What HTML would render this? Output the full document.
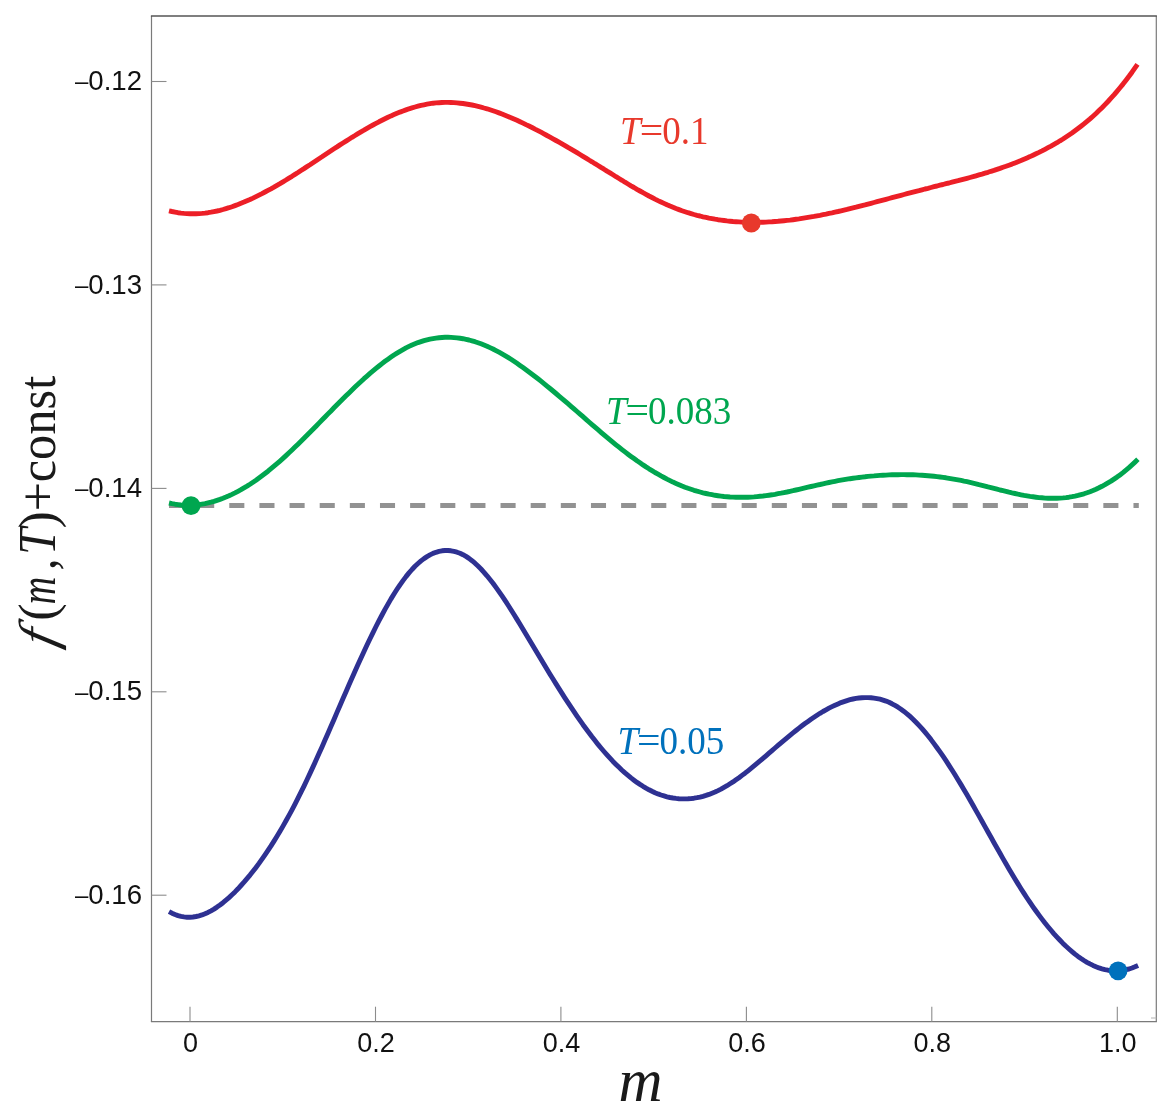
<!DOCTYPE html>
<html lang="en">
<head>
<meta charset="utf-8">
<title>f(m,T)+const</title>
<style>
html,body{margin:0;padding:0;background:#fff;}
body{width:1171px;height:1117px;overflow:hidden;}
svg{display:block;}
.sans{font-family:"Liberation Sans",Arial,Helvetica,sans-serif;font-size:27px;fill:#111;}
.serif{font-family:"Liberation Serif","Times New Roman",Times,serif;}
.it{font-style:italic;}
.crv{fill:none;stroke-width:4.9;stroke-linejoin:round;stroke-linecap:butt;}
</style>
</head>
<body>
<svg width="1171" height="1117" viewBox="0 0 1171 1117">
<rect x="0" y="0" width="1171" height="1117" fill="#ffffff"/>

<!-- frame -->
<g fill="none" stroke="#7a7a7a" stroke-width="1.2">
<line x1="151.5" y1="16.0" x2="151.5" y2="1021.7"/>
<line x1="1156.3" y1="16.0" x2="1156.3" y2="1021.7"/>
<line x1="150.9" y1="1021.7" x2="1156.8999999999999" y2="1021.7"/>
</g>
<line x1="150.9" y1="16.0" x2="1156.8999999999999" y2="16.0" stroke="#555" stroke-width="1.6"/>
<g stroke="#8c8c8c" stroke-width="1.1">
<line x1="190.0" y1="1006.7" x2="190.0" y2="1021.7"/>
<line x1="375.5" y1="1006.7" x2="375.5" y2="1021.7"/>
<line x1="560.9" y1="1006.7" x2="560.9" y2="1021.7"/>
<line x1="746.4" y1="1006.7" x2="746.4" y2="1021.7"/>
<line x1="931.8" y1="1006.7" x2="931.8" y2="1021.7"/>
<line x1="1117.3" y1="1006.7" x2="1117.3" y2="1021.7"/>
<line x1="151.5" y1="81.5" x2="166.5" y2="81.5"/>
<line x1="151.5" y1="284.9" x2="166.5" y2="284.9"/>
<line x1="151.5" y1="488.4" x2="166.5" y2="488.4"/>
<line x1="151.5" y1="691.8" x2="166.5" y2="691.8"/>
<line x1="151.5" y1="895.2" x2="166.5" y2="895.2"/>
<line x1="1151" y1="1018" x2="1156.3" y2="1018" stroke="#bbb"/>
</g>

<!-- dashed reference line -->
<line x1="169" y1="505.5" x2="1138.8" y2="505.5" stroke="#929292" stroke-width="5" stroke-dasharray="15.07 15.07"/>

<!-- curves -->
<path class="crv" stroke="#ec1f27" d="M169.0 210.8 L172.0 211.5 L175.0 212.1 L178.0 212.7 L181.0 213.1 L184.0 213.4 L187.0 213.6 L190.0 213.8 L193.0 213.8 L196.0 213.8 L199.0 213.6 L202.0 213.4 L205.0 213.1 L208.0 212.7 L211.0 212.2 L214.0 211.6 L217.0 211.0 L220.0 210.3 L223.0 209.5 L226.0 208.6 L229.0 207.7 L232.0 206.7 L235.0 205.6 L238.0 204.5 L241.0 203.3 L244.0 202.1 L247.0 200.8 L250.0 199.5 L253.0 198.1 L256.0 196.6 L259.0 195.1 L262.0 193.6 L265.0 192.0 L268.0 190.4 L271.0 188.8 L274.0 187.1 L277.0 185.3 L280.0 183.6 L283.0 181.8 L286.0 180.0 L289.0 178.1 L292.0 176.3 L295.0 174.4 L298.0 172.5 L301.0 170.5 L304.0 168.6 L307.0 166.6 L310.0 164.7 L313.0 162.7 L316.0 160.7 L319.0 158.7 L322.0 156.8 L325.0 154.8 L328.0 152.8 L331.0 150.8 L334.0 148.8 L337.0 146.9 L340.0 144.9 L343.0 143.0 L346.0 141.1 L349.0 139.2 L352.0 137.3 L355.0 135.5 L358.0 133.6 L361.0 131.8 L364.0 130.1 L367.0 128.3 L370.0 126.6 L373.0 125.0 L376.0 123.4 L379.0 121.8 L382.0 120.3 L385.0 118.8 L388.0 117.3 L391.0 115.9 L394.0 114.6 L397.0 113.3 L400.0 112.1 L403.0 111.0 L406.0 109.9 L409.0 108.8 L412.0 107.9 L415.0 107.0 L418.0 106.2 L421.0 105.4 L424.0 104.8 L427.0 104.2 L430.0 103.7 L433.0 103.2 L436.0 102.9 L439.0 102.7 L442.0 102.5 L445.0 102.4 L448.0 102.4 L451.0 102.5 L454.0 102.6 L457.0 102.9 L460.0 103.2 L463.0 103.5 L466.0 104.0 L469.0 104.5 L472.0 105.0 L475.0 105.7 L478.0 106.4 L481.0 107.1 L484.0 108.0 L487.0 108.8 L490.0 109.8 L493.0 110.8 L496.0 111.8 L499.0 112.9 L502.0 114.0 L505.0 115.2 L508.0 116.4 L511.0 117.7 L514.0 119.0 L517.0 120.3 L520.0 121.7 L523.0 123.1 L526.0 124.6 L529.0 126.0 L532.0 127.5 L535.0 129.1 L538.0 130.6 L541.0 132.2 L544.0 133.8 L547.0 135.5 L550.0 137.1 L553.0 138.8 L556.0 140.5 L559.0 142.2 L562.0 143.9 L565.0 145.6 L568.0 147.4 L571.0 149.1 L574.0 150.9 L577.0 152.7 L580.0 154.5 L583.0 156.3 L586.0 158.1 L589.0 160.0 L592.0 161.8 L595.0 163.7 L598.0 165.5 L601.0 167.4 L604.0 169.2 L607.0 171.1 L610.0 172.9 L613.0 174.8 L616.0 176.7 L619.0 178.5 L622.0 180.3 L625.0 182.2 L628.0 184.0 L631.0 185.8 L634.0 187.5 L637.0 189.3 L640.0 191.0 L643.0 192.7 L646.0 194.3 L649.0 196.0 L652.0 197.5 L655.0 199.1 L658.0 200.6 L661.0 202.0 L664.0 203.4 L667.0 204.8 L670.0 206.1 L673.0 207.3 L676.0 208.5 L679.0 209.6 L682.0 210.7 L685.0 211.7 L688.0 212.7 L691.0 213.6 L694.0 214.5 L697.0 215.3 L700.0 216.0 L703.0 216.8 L706.0 217.4 L709.0 218.1 L712.0 218.6 L715.0 219.2 L718.0 219.7 L721.0 220.1 L724.0 220.5 L727.0 220.9 L730.0 221.2 L733.0 221.5 L736.0 221.7 L739.0 221.9 L742.0 222.1 L745.0 222.2 L748.0 222.3 L751.0 222.3 L754.0 222.4 L757.0 222.3 L760.0 222.3 L763.0 222.2 L766.0 222.1 L769.0 221.9 L772.0 221.8 L775.0 221.5 L778.0 221.3 L781.0 221.0 L784.0 220.7 L787.0 220.4 L790.0 220.1 L793.0 219.7 L796.0 219.3 L799.0 218.9 L802.0 218.4 L805.0 217.9 L808.0 217.4 L811.0 216.9 L814.0 216.4 L817.0 215.8 L820.0 215.3 L823.0 214.7 L826.0 214.1 L829.0 213.4 L832.0 212.8 L835.0 212.1 L838.0 211.5 L841.0 210.8 L844.0 210.1 L847.0 209.4 L850.0 208.6 L853.0 207.9 L856.0 207.2 L859.0 206.4 L862.0 205.6 L865.0 204.9 L868.0 204.1 L871.0 203.3 L874.0 202.5 L877.0 201.7 L880.0 200.9 L883.0 200.1 L886.0 199.3 L889.0 198.5 L892.0 197.7 L895.0 196.9 L898.0 196.1 L901.0 195.3 L904.0 194.5 L907.0 193.7 L910.0 192.9 L913.0 192.1 L916.0 191.3 L919.0 190.6 L922.0 189.8 L925.0 189.0 L928.0 188.3 L931.0 187.5 L934.0 186.7 L937.0 186.0 L940.0 185.2 L943.0 184.5 L946.0 183.7 L949.0 183.0 L952.0 182.2 L955.0 181.4 L958.0 180.7 L961.0 179.9 L964.0 179.1 L967.0 178.3 L970.0 177.5 L973.0 176.7 L976.0 175.8 L979.0 174.9 L982.0 174.1 L985.0 173.2 L988.0 172.3 L991.0 171.3 L994.0 170.4 L997.0 169.4 L1000.0 168.4 L1003.0 167.3 L1006.0 166.3 L1009.0 165.2 L1012.0 164.1 L1015.0 162.9 L1018.0 161.7 L1021.0 160.5 L1024.0 159.2 L1027.0 157.9 L1030.0 156.6 L1033.0 155.2 L1036.0 153.8 L1039.0 152.4 L1042.0 150.9 L1045.0 149.3 L1048.0 147.7 L1051.0 146.1 L1054.0 144.4 L1057.0 142.7 L1060.0 140.8 L1063.0 139.0 L1066.0 137.0 L1069.0 135.0 L1072.0 133.0 L1075.0 130.8 L1078.0 128.6 L1081.0 126.3 L1084.0 123.9 L1087.0 121.4 L1090.0 118.9 L1093.0 116.2 L1096.0 113.5 L1099.0 110.6 L1102.0 107.7 L1105.0 104.6 L1108.0 101.5 L1111.0 98.2 L1114.0 94.9 L1117.0 91.4 L1120.0 87.8 L1123.0 84.1 L1126.0 80.2 L1129.0 76.3 L1132.0 72.2 L1135.0 67.9 L1137.5 64.3"/>
<path class="crv" stroke="#00a64f" d="M169.0 503.0 L172.0 503.7 L175.0 504.2 L178.0 504.6 L181.0 505.0 L184.0 505.2 L187.0 505.3 L190.0 505.2 L193.0 505.1 L196.0 504.9 L199.0 504.6 L202.0 504.1 L205.0 503.6 L208.0 502.9 L211.0 502.2 L214.0 501.4 L217.0 500.4 L220.0 499.4 L223.0 498.3 L226.0 497.1 L229.0 495.8 L232.0 494.4 L235.0 492.9 L238.0 491.3 L241.0 489.7 L244.0 487.9 L247.0 486.1 L250.0 484.2 L253.0 482.2 L256.0 480.2 L259.0 478.0 L262.0 475.8 L265.0 473.5 L268.0 471.2 L271.0 468.7 L274.0 466.2 L277.0 463.7 L280.0 461.1 L283.0 458.4 L286.0 455.6 L289.0 452.8 L292.0 450.0 L295.0 447.1 L298.0 444.2 L301.0 441.3 L304.0 438.3 L307.0 435.3 L310.0 432.3 L313.0 429.3 L316.0 426.2 L319.0 423.1 L322.0 420.1 L325.0 417.0 L328.0 413.9 L331.0 410.9 L334.0 407.8 L337.0 404.8 L340.0 401.8 L343.0 398.8 L346.0 395.8 L349.0 392.9 L352.0 390.0 L355.0 387.1 L358.0 384.3 L361.0 381.5 L364.0 378.7 L367.0 376.1 L370.0 373.4 L373.0 370.9 L376.0 368.4 L379.0 366.0 L382.0 363.6 L385.0 361.3 L388.0 359.2 L391.0 357.1 L394.0 355.0 L397.0 353.1 L400.0 351.3 L403.0 349.6 L406.0 347.9 L409.0 346.4 L412.0 345.0 L415.0 343.8 L418.0 342.6 L421.0 341.6 L424.0 340.6 L427.0 339.8 L430.0 339.1 L433.0 338.6 L436.0 338.1 L439.0 337.7 L442.0 337.5 L445.0 337.3 L448.0 337.3 L451.0 337.4 L454.0 337.6 L457.0 337.9 L460.0 338.3 L463.0 338.7 L466.0 339.3 L469.0 340.0 L472.0 340.8 L475.0 341.7 L478.0 342.7 L481.0 343.8 L484.0 345.0 L487.0 346.2 L490.0 347.6 L493.0 349.0 L496.0 350.6 L499.0 352.2 L502.0 353.9 L505.0 355.6 L508.0 357.4 L511.0 359.3 L514.0 361.3 L517.0 363.3 L520.0 365.4 L523.0 367.5 L526.0 369.7 L529.0 371.9 L532.0 374.2 L535.0 376.5 L538.0 378.8 L541.0 381.2 L544.0 383.6 L547.0 386.1 L550.0 388.5 L553.0 391.0 L556.0 393.5 L559.0 396.1 L562.0 398.6 L565.0 401.2 L568.0 403.7 L571.0 406.3 L574.0 408.9 L577.0 411.5 L580.0 414.1 L583.0 416.7 L586.0 419.3 L589.0 422.0 L592.0 424.6 L595.0 427.2 L598.0 429.7 L601.0 432.3 L604.0 434.9 L607.0 437.4 L610.0 439.9 L613.0 442.4 L616.0 444.8 L619.0 447.2 L622.0 449.6 L625.0 451.9 L628.0 454.2 L631.0 456.4 L634.0 458.6 L637.0 460.8 L640.0 462.8 L643.0 464.9 L646.0 466.9 L649.0 468.8 L652.0 470.6 L655.0 472.5 L658.0 474.2 L661.0 475.9 L664.0 477.5 L667.0 479.1 L670.0 480.6 L673.0 482.1 L676.0 483.4 L679.0 484.7 L682.0 486.0 L685.0 487.2 L688.0 488.3 L691.0 489.3 L694.0 490.3 L697.0 491.2 L700.0 492.0 L703.0 492.8 L706.0 493.5 L709.0 494.2 L712.0 494.7 L715.0 495.3 L718.0 495.7 L721.0 496.1 L724.0 496.5 L727.0 496.7 L730.0 497.0 L733.0 497.1 L736.0 497.3 L739.0 497.3 L742.0 497.3 L745.0 497.3 L748.0 497.2 L751.0 497.1 L754.0 496.9 L757.0 496.6 L760.0 496.3 L763.0 496.0 L766.0 495.6 L769.0 495.2 L772.0 494.8 L775.0 494.3 L778.0 493.7 L781.0 493.2 L784.0 492.6 L787.0 492.0 L790.0 491.3 L793.0 490.7 L796.0 490.0 L799.0 489.3 L802.0 488.6 L805.0 487.9 L808.0 487.2 L811.0 486.5 L814.0 485.8 L817.0 485.1 L820.0 484.5 L823.0 483.8 L826.0 483.1 L829.0 482.5 L832.0 481.9 L835.0 481.3 L838.0 480.7 L841.0 480.2 L844.0 479.7 L847.0 479.2 L850.0 478.7 L853.0 478.3 L856.0 477.9 L859.0 477.5 L862.0 477.1 L865.0 476.8 L868.0 476.4 L871.0 476.1 L874.0 475.9 L877.0 475.6 L880.0 475.4 L883.0 475.2 L886.0 475.1 L889.0 474.9 L892.0 474.8 L895.0 474.7 L898.0 474.7 L901.0 474.6 L904.0 474.6 L907.0 474.7 L910.0 474.7 L913.0 474.8 L916.0 474.9 L919.0 475.1 L922.0 475.3 L925.0 475.5 L928.0 475.7 L931.0 476.0 L934.0 476.3 L937.0 476.6 L940.0 477.0 L943.0 477.4 L946.0 477.8 L949.0 478.3 L952.0 478.8 L955.0 479.3 L958.0 479.8 L961.0 480.4 L964.0 481.1 L967.0 481.7 L970.0 482.4 L973.0 483.1 L976.0 483.8 L979.0 484.6 L982.0 485.3 L985.0 486.1 L988.0 486.9 L991.0 487.6 L994.0 488.4 L997.0 489.2 L1000.0 490.0 L1003.0 490.7 L1006.0 491.4 L1009.0 492.2 L1012.0 492.9 L1015.0 493.5 L1018.0 494.2 L1021.0 494.8 L1024.0 495.4 L1027.0 495.9 L1030.0 496.4 L1033.0 496.8 L1036.0 497.2 L1039.0 497.6 L1042.0 497.8 L1045.0 498.1 L1048.0 498.2 L1051.0 498.3 L1054.0 498.3 L1057.0 498.2 L1060.0 498.1 L1063.0 497.9 L1066.0 497.6 L1069.0 497.2 L1072.0 496.7 L1075.0 496.1 L1078.0 495.4 L1081.0 494.6 L1084.0 493.8 L1087.0 492.8 L1090.0 491.7 L1093.0 490.5 L1096.0 489.2 L1099.0 487.8 L1102.0 486.3 L1105.0 484.7 L1108.0 482.9 L1111.0 481.1 L1114.0 479.1 L1117.0 477.1 L1120.0 474.9 L1123.0 472.6 L1126.0 470.1 L1129.0 467.6 L1132.0 464.9 L1135.0 462.1 L1137.9 459.3"/>
<path class="crv" stroke="#2e3192" d="M169.0 911.6 L172.0 913.2 L175.0 914.5 L178.0 915.6 L181.0 916.4 L184.0 916.9 L187.0 917.2 L190.0 917.2 L193.0 917.0 L196.0 916.5 L199.0 915.8 L202.0 914.9 L205.0 913.7 L208.0 912.4 L211.0 910.8 L214.0 909.1 L217.0 907.1 L220.0 905.0 L223.0 902.7 L226.0 900.2 L229.0 897.6 L232.0 894.8 L235.0 891.9 L238.0 888.8 L241.0 885.5 L244.0 882.2 L247.0 878.7 L250.0 875.1 L253.0 871.3 L256.0 867.4 L259.0 863.4 L262.0 859.2 L265.0 854.9 L268.0 850.4 L271.0 845.9 L274.0 841.1 L277.0 836.3 L280.0 831.3 L283.0 826.1 L286.0 820.8 L289.0 815.4 L292.0 809.8 L295.0 804.1 L298.0 798.2 L301.0 792.2 L304.0 786.1 L307.0 779.8 L310.0 773.4 L313.0 766.9 L316.0 760.3 L319.0 753.6 L322.0 746.9 L325.0 740.1 L328.0 733.2 L331.0 726.3 L334.0 719.4 L337.0 712.4 L340.0 705.5 L343.0 698.6 L346.0 691.7 L349.0 684.8 L352.0 678.0 L355.0 671.2 L358.0 664.6 L361.0 658.0 L364.0 651.4 L367.0 645.0 L370.0 638.7 L373.0 632.6 L376.0 626.5 L379.0 620.7 L382.0 615.0 L385.0 609.4 L388.0 604.1 L391.0 598.9 L394.0 594.0 L397.0 589.3 L400.0 584.8 L403.0 580.6 L406.0 576.6 L409.0 572.9 L412.0 569.5 L415.0 566.3 L418.0 563.5 L421.0 560.9 L424.0 558.6 L427.0 556.6 L430.0 554.9 L433.0 553.4 L436.0 552.3 L439.0 551.4 L442.0 550.8 L445.0 550.5 L448.0 550.5 L451.0 550.8 L454.0 551.4 L457.0 552.2 L460.0 553.3 L463.0 554.7 L466.0 556.4 L469.0 558.4 L472.0 560.7 L475.0 563.2 L478.0 566.0 L481.0 569.0 L484.0 572.3 L487.0 575.8 L490.0 579.5 L493.0 583.3 L496.0 587.4 L499.0 591.6 L502.0 595.9 L505.0 600.4 L508.0 605.0 L511.0 609.7 L514.0 614.5 L517.0 619.4 L520.0 624.3 L523.0 629.3 L526.0 634.3 L529.0 639.3 L532.0 644.3 L535.0 649.3 L538.0 654.3 L541.0 659.3 L544.0 664.3 L547.0 669.2 L550.0 674.2 L553.0 679.0 L556.0 683.9 L559.0 688.6 L562.0 693.4 L565.0 698.1 L568.0 702.7 L571.0 707.2 L574.0 711.7 L577.0 716.1 L580.0 720.4 L583.0 724.7 L586.0 728.8 L589.0 732.8 L592.0 736.8 L595.0 740.6 L598.0 744.4 L601.0 748.0 L604.0 751.5 L607.0 754.9 L610.0 758.2 L613.0 761.4 L616.0 764.4 L619.0 767.3 L622.0 770.2 L625.0 772.9 L628.0 775.4 L631.0 777.9 L634.0 780.2 L637.0 782.4 L640.0 784.4 L643.0 786.3 L646.0 788.1 L649.0 789.8 L652.0 791.3 L655.0 792.7 L658.0 793.9 L661.0 795.0 L664.0 795.9 L667.0 796.8 L670.0 797.5 L673.0 798.0 L676.0 798.4 L679.0 798.7 L682.0 798.9 L685.0 798.9 L688.0 798.8 L691.0 798.6 L694.0 798.2 L697.0 797.7 L700.0 797.1 L703.0 796.3 L706.0 795.4 L709.0 794.4 L712.0 793.2 L715.0 792.0 L718.0 790.6 L721.0 789.1 L724.0 787.4 L727.0 785.7 L730.0 783.8 L733.0 781.9 L736.0 779.8 L739.0 777.7 L742.0 775.4 L745.0 773.2 L748.0 770.8 L751.0 768.4 L754.0 765.9 L757.0 763.4 L760.0 760.9 L763.0 758.4 L766.0 755.8 L769.0 753.2 L772.0 750.6 L775.0 748.0 L778.0 745.4 L781.0 742.8 L784.0 740.3 L787.0 737.8 L790.0 735.3 L793.0 732.9 L796.0 730.5 L799.0 728.1 L802.0 725.8 L805.0 723.5 L808.0 721.4 L811.0 719.2 L814.0 717.2 L817.0 715.2 L820.0 713.3 L823.0 711.5 L826.0 709.8 L829.0 708.1 L832.0 706.6 L835.0 705.2 L838.0 703.9 L841.0 702.6 L844.0 701.6 L847.0 700.6 L850.0 699.7 L853.0 699.0 L856.0 698.4 L859.0 698.0 L862.0 697.7 L865.0 697.6 L868.0 697.6 L871.0 697.7 L874.0 698.1 L877.0 698.6 L880.0 699.2 L883.0 700.1 L886.0 701.1 L889.0 702.3 L892.0 703.8 L895.0 705.4 L898.0 707.2 L901.0 709.2 L904.0 711.4 L907.0 713.8 L910.0 716.4 L913.0 719.2 L916.0 722.2 L919.0 725.4 L922.0 728.7 L925.0 732.2 L928.0 735.8 L931.0 739.6 L934.0 743.6 L937.0 747.7 L940.0 751.9 L943.0 756.2 L946.0 760.7 L949.0 765.3 L952.0 770.0 L955.0 774.8 L958.0 779.7 L961.0 784.6 L964.0 789.7 L967.0 794.8 L970.0 800.0 L973.0 805.3 L976.0 810.6 L979.0 815.9 L982.0 821.2 L985.0 826.6 L988.0 832.0 L991.0 837.3 L994.0 842.7 L997.0 848.0 L1000.0 853.3 L1003.0 858.6 L1006.0 863.8 L1009.0 868.9 L1012.0 874.0 L1015.0 879.0 L1018.0 883.9 L1021.0 888.7 L1024.0 893.4 L1027.0 898.0 L1030.0 902.4 L1033.0 906.8 L1036.0 911.0 L1039.0 915.1 L1042.0 919.1 L1045.0 923.0 L1048.0 926.7 L1051.0 930.3 L1054.0 933.8 L1057.0 937.1 L1060.0 940.3 L1063.0 943.4 L1066.0 946.3 L1069.0 949.0 L1072.0 951.6 L1075.0 954.1 L1078.0 956.4 L1081.0 958.5 L1084.0 960.5 L1087.0 962.3 L1090.0 963.9 L1093.0 965.4 L1096.0 966.7 L1099.0 967.9 L1102.0 968.8 L1105.0 969.6 L1108.0 970.2 L1111.0 970.6 L1114.0 970.8 L1117.0 970.8 L1120.0 970.7 L1123.0 970.3 L1126.0 969.7 L1129.0 969.0 L1132.0 968.0 L1135.0 966.8 L1138.1 965.4"/>

<!-- minima markers -->
<circle cx="751.3" cy="223" r="9.4" fill="#e8392c"/>
<circle cx="191" cy="505.6" r="9.4" fill="#00a64f"/>
<circle cx="1118.1" cy="970.8" r="9.4" fill="#0071bc"/>

<!-- curve labels -->
<g class="serif" font-size="40.5">
<g fill="#e8392c"><text class="it" transform="translate(620.1 144.1) scale(0.92 1)">T</text><text transform="translate(639.7 144.1) scale(1.03 1)">=</text><text transform="translate(662.2 144.1) scale(0.915 1)">0.1</text></g>
<g fill="#00a64f"><text class="it" transform="translate(605.9 423.9) scale(0.92 1)">T</text><text transform="translate(625.5 423.9) scale(1.03 1)">=</text><text transform="translate(648.0 423.9) scale(0.915 1)">0.083</text></g>
<g fill="#0071bc"><text class="it" transform="translate(617.4 754.2) scale(0.92 1)">T</text><text transform="translate(637.0 754.2) scale(1.03 1)">=</text><text transform="translate(659.5 754.2) scale(0.915 1)">0.05</text></g>
</g>

<!-- tick labels -->
<g class="sans">
<text x="190.5" y="1052" text-anchor="middle">0</text>
<text x="376.0" y="1052" text-anchor="middle">0.2</text>
<text x="561.4" y="1052" text-anchor="middle">0.4</text>
<text x="746.9" y="1052" text-anchor="middle">0.6</text>
<text x="932.3" y="1052" text-anchor="middle">0.8</text>
<text x="1117.8" y="1052" text-anchor="middle">1.0</text>
<text x="142" y="90.1" text-anchor="end"><tspan font-size="24" dy="-0.8">–</tspan><tspan font-size="27.6" dy="0.8">0.12</tspan></text>
<text x="142" y="293.5" text-anchor="end"><tspan font-size="24" dy="-0.8">–</tspan><tspan font-size="27.6" dy="0.8">0.13</tspan></text>
<text x="142" y="497.0" text-anchor="end"><tspan font-size="24" dy="-0.8">–</tspan><tspan font-size="27.6" dy="0.8">0.14</tspan></text>
<text x="142" y="700.4" text-anchor="end"><tspan font-size="24" dy="-0.8">–</tspan><tspan font-size="27.6" dy="0.8">0.15</tspan></text>
<text x="142" y="903.8" text-anchor="end"><tspan font-size="24" dy="-0.8">–</tspan><tspan font-size="27.6" dy="0.8">0.16</tspan></text>
</g>

<!-- axis titles -->
<g class="serif" font-size="52" fill="#1a1a1a" transform="translate(54.5 0) rotate(-90)">
<text class="it" transform="translate(-648.5 0) skewX(-13) scale(1.08 1)">f</text>
<text transform="translate(-620.8 0) scale(1.0 1)">(</text>
<text class="it" transform="translate(-604.4 0) scale(0.74 1)">m</text>
<text class="it" transform="translate(-570.3 0) scale(0.9 1)">,</text>
<text class="it" transform="translate(-555.1 0) scale(0.93 1)">T</text>
<text transform="translate(-528.5 0) scale(1.0 1)">)</text>
<text transform="translate(-511.2 0) scale(1.0 1)">+</text>
<text transform="translate(-482.3 0) scale(0.97 1)">const</text>
</g>
<text class="serif it" font-size="61" fill="#1a1a1a" x="618.5" y="1101">m</text>
</svg>
</body>
</html>
